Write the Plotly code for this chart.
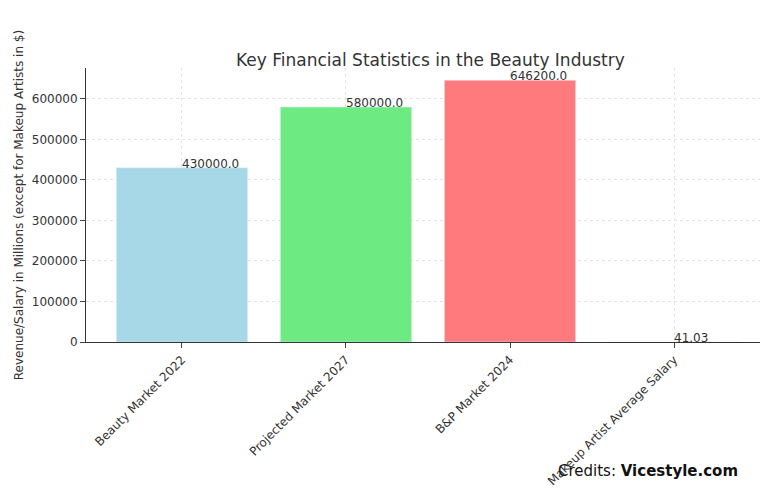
import plotly.graph_objects as go

categories = ["Beauty Market 2022", "Projected Market 2027", "B&P Market 2024", "Makeup Artist Average Salary"]
values = [430000.0, 580000.0, 646200.0, 41.03]
colors = ["#a6d8e7", "#6eea82", "#ff7a7d", "#c9a0dc"]

fig = go.Figure(go.Bar(x=categories, y=values, marker_color=colors, width=0.8))

for c, v in zip(categories, values):
    fig.add_annotation(x=c, y=v, text=f"{v}", showarrow=False, xanchor="left",
                       yanchor="bottom", xshift=-2, yshift=-5,
                       font=dict(size=12, color="#333333"))

fig.add_annotation(x=1, y=0, xref="paper", yref="paper", xanchor="right", yanchor="top",
                   xshift=-30, yshift=-118, showarrow=False,
                   text="Credits: <b>Vicestyle.com</b>", font=dict(size=15, color="#111111"))

fig.update_layout(
    width=768, height=490,
    margin=dict(l=78, r=6, t=60, b=156),
    plot_bgcolor="white", paper_bgcolor="white",
    font=dict(family="DejaVu Sans", size=12, color="#333333"),
    title=dict(text="Key Financial Statistics in the Beauty Industry", x=0.55, xanchor="center",
               y=0.905, font=dict(size=17, color="#333333")),
    showlegend=False,
)
fig.update_xaxes(range=[-0.585, 3.585], tickangle=-45, showline=True, linecolor="#333333",
                 ticks="outside", showgrid=True, gridcolor="#e3e3e3", griddash="dot",
                 tickfont=dict(size=12), automargin=False)
fig.update_yaxes(range=[0, 676500], dtick=100000, showline=True, linecolor="#333333",
                 ticks="outside", showgrid=True, gridcolor="#e3e3e3", griddash="dot",
                 zeroline=False, tickformat="d", tickfont=dict(size=12), automargin=False,
                 title=dict(text="Revenue/Salary in Millions (except for Makeup Artists in $)",
                            font=dict(size=12), standoff=5))

fig.write_html("out.html")
